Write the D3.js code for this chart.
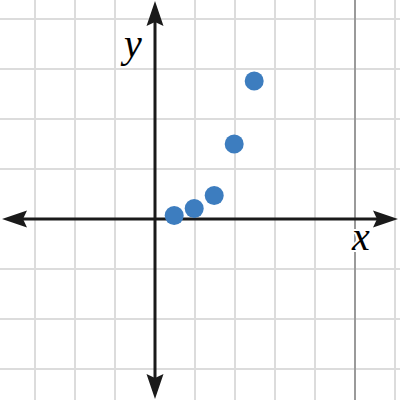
<!DOCTYPE html>
<html>
<head>
<meta charset="utf-8">
<script src="https://cdn.jsdelivr.net/npm/d3@7"></script>
<style>
  html, body { margin: 0; padding: 0; background: #fff; }
  svg { display: block; }
</style>
</head>
<body>
<svg width="400" height="400"></svg>
<script>
// point data
const xValues = [0.48, 0.98, 1.48, 1.98, 2.48];
const yValues = [0.07, 0.21, 0.47, 1.5, 2.76];
const xGridTicks = [-3, -2, -1, 1, 2, 3, 4, 5, 6];
const yGridTicks = [-3, -2, -1, 1, 2, 3, 4];
const markedX = [5];
const axisLabels = ["x", "y"];

const width = 400, height = 400;

const x = d3.scaleLinear().domain([-3.875, 6.125]).range([0, width]);
const y = d3.scaleLinear().domain([4.38, -3.62]).range([0, height]);

const svg = d3.select("svg");

// light grid
svg.append("g")
  .selectAll("line")
  .data(xGridTicks)
  .join("line")
    .attr("x1", d => x(d)).attr("x2", d => x(d))
    .attr("y1", 0).attr("y2", height)
    .attr("stroke", "#dcdcdc")
    .attr("stroke-width", 2);

svg.append("g")
  .selectAll("line")
  .data(yGridTicks)
  .join("line")
    .attr("y1", d => y(d)).attr("y2", d => y(d))
    .attr("x1", 0).attr("x2", width)
    .attr("stroke", "#dcdcdc")
    .attr("stroke-width", 2);

// darker vertical line
svg.append("g")
  .selectAll("line")
  .data(markedX)
  .join("line")
    .attr("x1", d => x(d)).attr("x2", d => x(d))
    .attr("y1", 0).attr("y2", height)
    .attr("stroke", "#9a9a9a")
    .attr("stroke-width", 2);

// axes with arrows
const x0 = x(0), y0 = y(0);
const axisColor = "#1a1a1a";
svg.append("line")
  .attr("x1", 20).attr("x2", width - 20)
  .attr("y1", y0).attr("y2", y0)
  .attr("stroke", axisColor).attr("stroke-width", 3);
svg.append("line")
  .attr("x1", x0).attr("x2", x0)
  .attr("y1", 20).attr("y2", height - 20)
  .attr("stroke", axisColor).attr("stroke-width", 3);

// arrowhead pointing right at origin, rotated into place
const head = "M0,0 L-25,-8.5 L-21,0 L-25,8.5 Z";
const tips = [
  {tx: width - 2, ty: y0, rot: 0},
  {tx: 2, ty: y0, rot: 180},
  {tx: x0, ty: 1, rot: -90},
  {tx: x0, ty: height - 1, rot: 90}
];
svg.append("g")
  .selectAll("path")
  .data(tips)
  .join("path")
    .attr("d", head)
    .attr("transform", d => `translate(${d.tx},${d.ty}) rotate(${d.rot})`)
    .attr("fill", axisColor);

// axis labels
const labelPos = [
  {t: axisLabels[0], px: 361, py: 250},
  {t: axisLabels[1], px: 133, py: 57}
];
svg.append("g")
  .selectAll("text")
  .data(labelPos)
  .join("text")
    .attr("x", d => d.px)
    .attr("y", d => d.py)
    .attr("text-anchor", "middle")
    .attr("font-family", "'Liberation Serif', 'DejaVu Serif', serif")
    .attr("font-style", "italic")
    .attr("font-size", 40)
    .attr("fill", "#000")
    .attr("stroke", "#fff")
    .attr("stroke-width", 4)
    .attr("paint-order", "stroke")
    .text(d => d.t);

// points
svg.append("g")
  .selectAll("circle")
  .data(xValues.map((v, i) => [v, yValues[i]]))
  .join("circle")
    .attr("cx", d => x(d[0]))
    .attr("cy", d => y(d[1]))
    .attr("r", 9.5)
    .attr("fill", "#3d7dbf");
</script>
</body>
</html>
